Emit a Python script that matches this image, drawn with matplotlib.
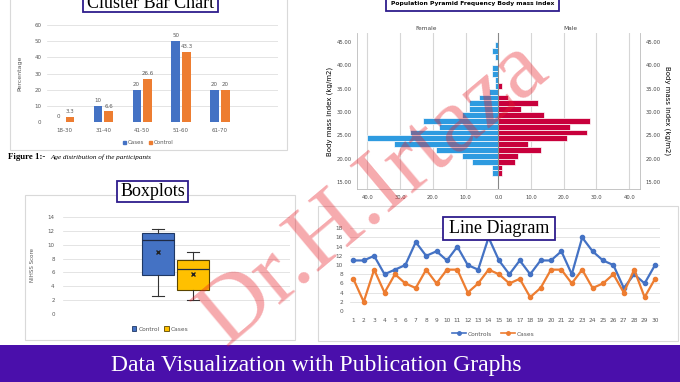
import matplotlib
matplotlib.use("Agg")
import matplotlib.pyplot as plt
from matplotlib.patches import Rectangle, Patch
from matplotlib.lines import Line2D
import numpy as np

W, H = 680, 382

# cluster bar chart
age_groups = ["18-30", "31-40", "41-50", "51-60", "61-70"]
cases_pct = [0, 10, 20, 50, 20]
control_pct = [3.3, 6.6, 26.6, 43.3, 20]

# population pyramid (bin lower edges, width 1.25)
bmi_bins = [16.25, 17.5, 18.75, 20, 21.25, 22.5, 23.75, 25, 26.25, 27.5, 28.75, 30,
            31.25, 32.5, 33.75, 35, 36.25, 37.5, 38.75, 40, 41.25, 42.5, 43.75]
female_freq = [2, 2, 8, 11, 19, 32, 40, 27, 18, 23, 11, 9, 9, 6, 3, 1, 1, 2, 2, 0, 1, 2, 1]
male_freq = [1, 1, 5, 6, 13, 9, 21, 27, 22, 28, 14, 7, 12, 3, 0, 1, 0, 0, 0, 0, 0, 0, 0]

# boxplots
control_box = dict(label="Control", whislo=2.6, q1=5.7, med=10.7, q3=11.6, whishi=12.2,
                   mean=9.0, fliers=[])
cases_box = dict(label="Cases", whislo=2.1, q1=3.5, med=6.5, q3=7.8, whishi=9.0,
                 mean=5.8, fliers=[])

# line diagram
subjects = list(range(1, 31))
controls_line = [11, 11, 12, 8, 9, 10, 15, 12, 13, 11, 14, 10, 9, 16, 11,
                 8, 11, 8, 11, 11, 13, 8, 16, 13, 11, 10, 5, 8, 6, 10]
cases_line = [7, 2, 9, 4, 8, 6, 5, 9, 6, 9, 9, 4, 6, 9, 8,
              6, 7, 3, 5, 9, 9, 6, 9, 5, 6, 8, 4, 9, 3, 7]

BLUE = "#4472C4"
ORANGE = "#ED7D31"
GRAY = "#595959"
GRID = "#D9D9D9"
SERIF = "Liberation Serif"

fig = plt.figure(figsize=(6.8, 3.82), dpi=100)
fig.patch.set_facecolor("white")


def px_axes(x0, y0, x1, y1):
    return fig.add_axes([x0 / W, 1 - y1 / H, (x1 - x0) / W, (y1 - y0) / H])


def fpos(x, y):
    return x / W, 1 - y / H


# background layer: panels and banner
bg = fig.add_axes([0, 0, 1, 1])
bg.set_xlim(0, W)
bg.set_ylim(H, 0)
bg.axis("off")
bg.set_zorder(0)
for (x0, y0, x1, y1) in [(10, -2, 287, 150), (25, 195, 295, 340), (318, 206, 678, 341)]:
    bg.add_patch(Rectangle((x0, y0), x1 - x0, y1 - y0, fc="white", ec="#D9D9D9", lw=0.8))
bg.add_patch(Rectangle((0, 345), W, 40, fc="#4A0FAB", ec="none"))
bg.text(316, 365, "Data Visualization with Publication Graphs", color="white",
        family=SERIF, fontsize=17, ha="center", va="center")
bg.text(8, 157, "Figure 1:-", family=SERIF, fontsize=6.3, weight="bold", va="center")
bg.text(50, 157, "Age distribution of the participants", family=SERIF, fontsize=5.1,
        style="italic", va="center")

# ---- cluster bar chart ----
ax1 = px_axes(47, 25, 278, 122)
ax1.set_zorder(2)
x = np.arange(len(age_groups))
b1 = ax1.bar(x - 0.14, cases_pct, 0.21, color=BLUE, zorder=3)
b2 = ax1.bar(x + 0.14, control_pct, 0.21, color=ORANGE, zorder=3)
ax1.bar_label(b1, fmt="%g", fontsize=4, padding=2, color=GRAY)
ax1.bar_label(b2, fmt="%g", fontsize=4, padding=2, color=GRAY)
ax1.set_xlim(-0.44, 5.49)
ax1.set_ylim(0, 60)
ax1.set_yticks(range(0, 61, 10))
ax1.set_xticks(x)
ax1.set_xticklabels(age_groups)
ax1.grid(axis="y", color=GRID, lw=0.5, zorder=0)
for s in ax1.spines.values():
    s.set_visible(False)
ax1.axhline(0, color=GRID, lw=0.6)
ax1.tick_params(length=0, labelsize=4, colors=GRAY, pad=4)
ax1.set_ylabel("Percentage", fontsize=4.5, color=GRAY)
ax1.yaxis.set_label_coords(-0.108, 0.5)
ax1.legend([Patch(color=BLUE), Patch(color=ORANGE)], ["Cases", "Control"], loc="center",
           bbox_to_anchor=fpos(148, 143), bbox_transform=fig.transFigure, ncol=2,
           frameon=False, fontsize=4, handlelength=0.6, handleheight=0.6,
           handletextpad=0.3, columnspacing=0.8, labelcolor=GRAY)

# ---- population pyramid ----
ax2 = px_axes(357, 33, 640, 189)
ax2.set_zorder(2)
ax2.barh(bmi_bins, [-f for f in female_freq], height=1.25, align="edge",
         color="#2E9BE0", ec="white", lw=0.5, zorder=3)
ax2.barh(bmi_bins, male_freq, height=1.25, align="edge",
         color="#C8003C", ec="white", lw=0.5, zorder=3)
ax2.set_xlim(-43.2, 43.3)
ax2.set_ylim(13.5, 46.93)
xt = [-40, -30, -20, -10, 0, 10, 20, 30, 40]
ax2.set_xticks(xt)
ax2.set_xticklabels(["%.1f" % abs(v) for v in xt])
yt = [15, 20, 25, 30, 35, 40, 45]
ax2.set_yticks(yt)
ax2.set_yticklabels(["%.2f" % v for v in yt])
ax2.tick_params(length=0, labelsize=3.8, colors="#444444", labelright=True, pad=4)
for v in xt:
    if v != 0:
        ax2.axvline(v, color="#D6D6D6", lw=0.8, zorder=1)
ax2.axvline(0, color="#888888", lw=0.8, zorder=4)
ax2.spines["top"].set_visible(False)
for k in ["left", "right", "bottom"]:
    ax2.spines[k].set_color("#BBBBBB")
    ax2.spines[k].set_linewidth(0.6)
ax2.text(-22, 48, "Female", fontsize=4.2, color="#444444", ha="center", va="center")
ax2.text(22, 48, "Male", fontsize=4.2, color="#444444", ha="center", va="center")
ax2.text(-0.095, 0.5, "Body mass index (kg/m2)", transform=ax2.transAxes, rotation=90,
         fontsize=5, ha="center", va="center")
ax2.text(1.095, 0.5, "Body mass index (kg/m2)", transform=ax2.transAxes, rotation=270,
         fontsize=5, ha="center", va="center")

# ---- boxplots ----
ax3 = px_axes(63, 216.7, 290, 314.3)
ax3.set_zorder(2)
bp = ax3.bxp([control_box, cases_box], positions=[0.418, 0.573], widths=0.141,
             patch_artist=True, showmeans=True, capwidths=0.05,
             meanprops=dict(marker="x", markeredgecolor="#222222", markersize=3.5),
             medianprops=dict(color="#1F2A44", lw=0.9),
             whiskerprops=dict(color="#333333", lw=0.8),
             capprops=dict(color="#333333", lw=0.8),
             boxprops=dict(lw=0.8))
bp["boxes"][0].set(facecolor=BLUE, edgecolor="#1F3864")
bp["boxes"][1].set(facecolor="#FFC000", edgecolor="#5A4500")
for art in bp["boxes"] + bp["whiskers"] + bp["caps"] + bp["medians"] + bp["means"]:
    art.set_zorder(3)
ax3.set_xlim(0, 1)
ax3.set_ylim(0, 14)
ax3.set_yticks(range(0, 15, 2))
ax3.set_xticks([])
ax3.grid(axis="y", color=GRID, lw=0.5, zorder=0)
for s in ax3.spines.values():
    s.set_visible(False)
ax3.tick_params(length=0, labelsize=4, colors=GRAY, pad=6)
ax3.set_ylabel("NIHSS Score", fontsize=4, color=GRAY)
ax3.yaxis.set_label_coords(-0.123, 0.5)
ax3.legend([Patch(fc=BLUE, ec="#1F3864", lw=0.6), Patch(fc="#FFC000", ec="#5A4500", lw=0.6)],
           ["Control", "Cases"], loc="center", bbox_to_anchor=fpos(160, 329),
           bbox_transform=fig.transFigure, ncol=2, frameon=False, fontsize=4.2,
           handlelength=0.8, handleheight=0.8, handletextpad=0.3, columnspacing=0.8,
           labelcolor=GRAY)

# ---- line diagram ----
ax4 = px_axes(350, 228.3, 660, 311)
ax4.set_zorder(2)
ax4.plot(subjects, controls_line, color=BLUE, lw=1.6, marker="o", ms=3, zorder=3)
ax4.plot(subjects, cases_line, color=ORANGE, lw=1.6, marker="o", ms=3, zorder=3)
ax4.set_xlim(0.68, 30.48)
ax4.set_ylim(0, 18)
ax4.set_yticks(range(0, 19, 2))
ax4.set_xticks(subjects)
ax4.grid(axis="y", color=GRID, lw=0.5, zorder=0)
for s in ax4.spines.values():
    s.set_visible(False)
ax4.tick_params(length=0, labelsize=4.2, colors=GRAY, pad=5)
ax4.legend([Line2D([], [], color=BLUE, lw=1.2, marker="o", ms=2.5),
            Line2D([], [], color=ORANGE, lw=1.2, marker="o", ms=2.5)],
           ["Controls", "Cases"], loc="center", bbox_to_anchor=fpos(493, 334),
           bbox_transform=fig.transFigure, ncol=2, frameon=False, fontsize=4.2,
           handlelength=2.5, handletextpad=0.2, columnspacing=1.5, labelcolor=GRAY)

# top layer: title boxes and watermark
top = fig.add_axes([0, 0, 1, 1])
top.set_xlim(0, W)
top.set_ylim(H, 0)
top.axis("off")
top.set_zorder(10)
top.patch.set_alpha(0)
titles = [
    ((83, -5, 218, 12), "Cluster Bar Chart", 13, (150.5, 8), "baseline"),
    ((386, -5, 559, 11), "Population Pyramid Frequency Body mass index", 4.3, (472.5, 5), "baseline"),
    ((117, 181, 188, 202), "Boxplots", 13, (152.5, 191.5), "center"),
    ((443, 217, 555, 240), "Line Diagram", 13, (499, 228.5), "center"),
]
for (x0, y0, x1, y1), txt, fs, (tx, ty), va in titles:
    top.add_patch(Rectangle((x0, y0), x1 - x0, y1 - y0, fc="white", ec="#2E1C8C", lw=1.3))
    if fs > 6:
        top.text(tx, ty, txt, family=SERIF, fontsize=fs, ha="center", va=va)
    else:
        top.text(tx, ty, txt, fontsize=fs, ha="center", va=va, weight="semibold")

top.text(374, 193, "Dr.H.Irtaza", family=SERIF, fontsize=68, rotation=40,
         color="#E8202A", alpha=0.38, ha="center", va="center", rotation_mode="anchor")

fig.savefig("out.png", dpi=100)
